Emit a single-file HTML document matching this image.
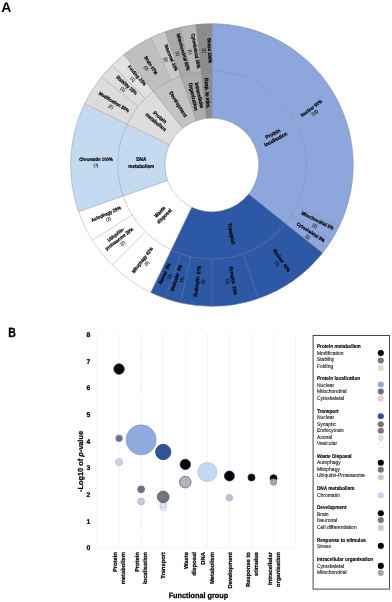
<!DOCTYPE html>
<html><head><meta charset="utf-8"><title>Figure</title>
<style>html,body{margin:0;padding:0;background:#fff;}svg{display:block;}</style>
</head><body>
<svg width="392" height="602" viewBox="0 0 392 602" font-family='"Liberation Sans", sans-serif' text-rendering="geometricPrecision">
<rect width="392" height="602" fill="#fff"/>
<g><path d="M211.90,70.90 A94.1,94.1 0 0 1 285.47,223.67 L248.65,194.30 A47.0,47.0 0 0 0 211.90,118.00 Z" fill="#8DA7DD" stroke="#8DA7DD" stroke-width="0.4"/><path d="M211.90,23.70 A141.3,141.3 0 0 1 339.21,226.31 L296.68,205.83 A94.1,94.1 0 0 0 211.90,70.90 Z" fill="#8DA7DD" stroke="#8DA7DD" stroke-width="0.4"/><path d="M339.21,226.31 A141.3,141.3 0 0 1 331.54,240.18 L291.58,215.06 A94.1,94.1 0 0 0 296.68,205.83 Z" fill="#8DA7DD" stroke="#8DA7DD" stroke-width="0.4"/><path d="M331.54,240.18 A141.3,141.3 0 0 1 322.37,253.10 L285.47,223.67 A94.1,94.1 0 0 0 291.58,215.06 Z" fill="#8DA7DD" stroke="#8DA7DD" stroke-width="0.4"/><path d="M285.47,223.67 A94.1,94.1 0 0 1 171.07,249.78 L191.51,207.35 A47.0,47.0 0 0 0 248.65,194.30 Z" fill="#2D58A6" stroke="#2D58A6" stroke-width="0.4"/><path d="M322.37,253.10 A141.3,141.3 0 0 1 258.57,298.37 L242.98,253.82 A94.1,94.1 0 0 0 285.47,223.67 Z" fill="#2D58A6" stroke="#2D58A6" stroke-width="0.4"/><path d="M258.57,298.37 A141.3,141.3 0 0 1 211.90,306.30 L211.90,259.10 A94.1,94.1 0 0 0 242.98,253.82 Z" fill="#2D58A6" stroke="#2D58A6" stroke-width="0.4"/><path d="M211.90,306.30 A141.3,141.3 0 0 1 180.46,302.76 L190.96,256.74 A94.1,94.1 0 0 0 211.90,259.10 Z" fill="#2D58A6" stroke="#2D58A6" stroke-width="0.4"/><path d="M180.46,302.76 A141.3,141.3 0 0 1 165.23,298.37 L180.82,253.82 A94.1,94.1 0 0 0 190.96,256.74 Z" fill="#2D58A6" stroke="#2D58A6" stroke-width="0.4"/><path d="M165.23,298.37 A141.3,141.3 0 0 1 150.59,292.31 L171.07,249.78 A94.1,94.1 0 0 0 180.82,253.82 Z" fill="#2D58A6" stroke="#2D58A6" stroke-width="0.4"/><path d="M171.07,249.78 A94.1,94.1 0 0 1 123.08,196.08 L167.54,180.52 A47.0,47.0 0 0 0 191.51,207.35 Z" fill="#FFFFFF" stroke="#FFFFFF" stroke-width="0.4"/><path d="M150.59,292.31 A141.3,141.3 0 0 1 111.99,264.91 L145.36,231.54 A94.1,94.1 0 0 0 171.07,249.78 Z" fill="#FFFFFF" stroke="#FFFFFF" stroke-width="0.4"/><path d="M111.99,264.91 A141.3,141.3 0 0 1 92.26,240.18 L132.22,215.06 A94.1,94.1 0 0 0 145.36,231.54 Z" fill="#FFFFFF" stroke="#FFFFFF" stroke-width="0.4"/><path d="M92.26,240.18 A141.3,141.3 0 0 1 78.53,211.67 L123.08,196.08 A94.1,94.1 0 0 0 132.22,215.06 Z" fill="#FFFFFF" stroke="#FFFFFF" stroke-width="0.4"/><path d="M123.08,196.08 A94.1,94.1 0 0 1 127.12,124.17 L169.55,144.61 A47.0,47.0 0 0 0 167.54,180.52 Z" fill="#C4DAF0" stroke="#C4DAF0" stroke-width="0.4"/><path d="M78.53,211.67 A141.3,141.3 0 0 1 84.59,103.69 L127.12,124.17 A94.1,94.1 0 0 0 123.08,196.08 Z" fill="#C4DAF0" stroke="#C4DAF0" stroke-width="0.4"/><path d="M127.12,124.17 A94.1,94.1 0 0 1 153.23,91.43 L182.60,128.25 A47.0,47.0 0 0 0 169.55,144.61 Z" fill="#DDDDDD" stroke="#DDDDDD" stroke-width="0.4"/><path d="M84.59,103.69 A141.3,141.3 0 0 1 101.43,76.90 L138.33,106.33 A94.1,94.1 0 0 0 127.12,124.17 Z" fill="#DCDCDC" stroke="#DCDCDC" stroke-width="0.4"/><path d="M101.43,76.90 A141.3,141.3 0 0 1 111.99,65.09 L145.36,98.46 A94.1,94.1 0 0 0 138.33,106.33 Z" fill="#DEDEDE" stroke="#DEDEDE" stroke-width="0.4"/><path d="M111.99,65.09 A141.3,141.3 0 0 1 123.80,54.53 L153.23,91.43 A94.1,94.1 0 0 0 145.36,98.46 Z" fill="#E1E1E1" stroke="#E1E1E1" stroke-width="0.4"/><path d="M153.23,91.43 A94.1,94.1 0 0 1 180.82,76.18 L196.38,120.64 A47.0,47.0 0 0 0 182.60,128.25 Z" fill="#C3C3C3" stroke="#C3C3C3" stroke-width="0.4"/><path d="M123.80,54.53 A141.3,141.3 0 0 1 150.59,37.69 L171.07,80.22 A94.1,94.1 0 0 0 153.23,91.43 Z" fill="#BFBFBF" stroke="#BFBFBF" stroke-width="0.4"/><path d="M150.59,37.69 A141.3,141.3 0 0 1 165.23,31.63 L180.82,76.18 A94.1,94.1 0 0 0 171.07,80.22 Z" fill="#C9C9C9" stroke="#C9C9C9" stroke-width="0.4"/><path d="M180.82,76.18 A94.1,94.1 0 0 1 201.36,71.49 L206.64,118.30 A47.0,47.0 0 0 0 196.38,120.64 Z" fill="#ACACAC" stroke="#ACACAC" stroke-width="0.4"/><path d="M165.23,31.63 A141.3,141.3 0 0 1 180.46,27.24 L190.96,73.26 A94.1,94.1 0 0 0 180.82,76.18 Z" fill="#A9A9A9" stroke="#A9A9A9" stroke-width="0.4"/><path d="M180.46,27.24 A141.3,141.3 0 0 1 196.08,24.59 L201.36,71.49 A94.1,94.1 0 0 0 190.96,73.26 Z" fill="#B6B6B6" stroke="#B6B6B6" stroke-width="0.4"/><path d="M201.36,71.49 A94.1,94.1 0 0 1 211.90,70.90 L211.90,118.00 A47.0,47.0 0 0 0 206.64,118.30 Z" fill="#8C8C8C" stroke="#8C8C8C" stroke-width="0.4"/><path d="M196.08,24.59 A141.3,141.3 0 0 1 211.90,23.70 L211.90,70.90 A94.1,94.1 0 0 0 201.36,71.49 Z" fill="#8C8C8C" stroke="#8C8C8C" stroke-width="0.4"/></g><g stroke="#767676" stroke-width="0.55" stroke-opacity="0.62" fill="none"><line x1="211.90" y1="118.00" x2="211.90" y2="23.70"/><line x1="296.68" y1="205.83" x2="339.21" y2="226.31"/><line x1="291.58" y1="215.06" x2="331.54" y2="240.18"/><line x1="248.65" y1="194.30" x2="322.37" y2="253.10"/><line x1="242.98" y1="253.82" x2="258.57" y2="298.37"/><line x1="211.90" y1="259.10" x2="211.90" y2="306.30"/><line x1="190.96" y1="256.74" x2="180.46" y2="302.76"/><line x1="180.82" y1="253.82" x2="165.23" y2="298.37"/><line x1="191.51" y1="207.35" x2="150.59" y2="292.31"/><line x1="145.36" y1="231.54" x2="111.99" y2="264.91"/><line x1="132.22" y1="215.06" x2="92.26" y2="240.18"/><line x1="167.54" y1="180.52" x2="78.53" y2="211.67"/><line x1="169.55" y1="144.61" x2="84.59" y2="103.69"/><line x1="138.33" y1="106.33" x2="101.43" y2="76.90"/><line x1="145.36" y1="98.46" x2="111.99" y2="65.09"/><line x1="182.60" y1="128.25" x2="123.80" y2="54.53"/><line x1="171.07" y1="80.22" x2="150.59" y2="37.69"/><line x1="196.38" y1="120.64" x2="165.23" y2="31.63"/><line x1="190.96" y1="73.26" x2="180.46" y2="27.24"/><line x1="206.64" y1="118.30" x2="196.08" y2="24.59"/><circle cx="211.9" cy="165.0" r="94.1"/><circle cx="211.9" cy="165.0" r="47.0"/><circle cx="211.9" cy="165.0" r="141.3" stroke-opacity="0.55"/></g><g text-anchor="middle" fill="#000"><g transform="translate(274.23,136.59) rotate(-28.00)"><text transform="translate(0,-1.25) scale(0.875,1)" font-size="5.3" font-weight="bold" stroke="#000" stroke-width="0.2">Protein</text><text transform="translate(0,4.85) scale(0.875,1)" font-size="5.3" font-weight="bold" stroke="#000" stroke-width="0.2">localisation</text></g><g transform="translate(313.07,110.53) rotate(-36.50)"><text transform="translate(0,-1.13) scale(0.875,1)" font-size="4.9" font-weight="bold" stroke="#000" stroke-width="0.2">Nuclear 90%</text><text transform="translate(0,4.27) scale(0.875,1)" font-size="4.51" fill="#000" stroke="#000" stroke-width="0.1">(18)</text></g><g transform="translate(316.23,223.07) rotate(26.50)"><text transform="translate(0,-1.13) scale(0.875,1)" font-size="4.9" font-weight="bold" stroke="#000" stroke-width="0.2">Mitochondrial 5%</text><text transform="translate(0,4.27) scale(0.875,1)" font-size="4.51" fill="#000" stroke="#000" stroke-width="0.1">(1)</text></g><g transform="translate(309.27,234.45) rotate(33.00)"><text transform="translate(0,-1.13) scale(0.875,1)" font-size="4.9" font-weight="bold" stroke="#000" stroke-width="0.2">Cytoskeletal 5%</text><text transform="translate(0,4.27) scale(0.875,1)" font-size="4.51" fill="#000" stroke="#000" stroke-width="0.1">(1)</text></g><g transform="translate(231.49,233.76) rotate(79.00)"><text transform="translate(0,1.80) scale(0.875,1)" font-size="5.3" font-weight="bold" stroke="#000" stroke-width="0.2">Transport</text></g><g transform="translate(279.36,262.06) rotate(55.20)"><text transform="translate(0,-1.13) scale(0.875,1)" font-size="4.9" font-weight="bold" stroke="#000" stroke-width="0.2">Nuclear  42%</text><text transform="translate(0,4.27) scale(0.875,1)" font-size="4.51" fill="#000" stroke="#000" stroke-width="0.1">(5)</text></g><g transform="translate(230.48,281.02) rotate(80.90)"><text transform="translate(0,-1.13) scale(0.875,1)" font-size="4.9" font-weight="bold" stroke="#000" stroke-width="0.2">Synaptic  25%</text><text transform="translate(0,4.27) scale(0.875,1)" font-size="4.51" fill="#000" stroke="#000" stroke-width="0.1">(3)</text></g><g transform="translate(200.06,281.60) rotate(-82.00)"><text transform="translate(0,-1.13) scale(0.875,1)" font-size="4.9" font-weight="bold" stroke="#000" stroke-width="0.2">Endocytic  17%</text><text transform="translate(0,4.27) scale(0.875,1)" font-size="4.51" fill="#000" stroke="#000" stroke-width="0.1">(2)</text></g><g transform="translate(178.84,278.79) rotate(-71.50)"><text transform="translate(0,-1.13) scale(0.875,1)" font-size="4.9" font-weight="bold" stroke="#000" stroke-width="0.2">Vesicular  8%</text><text transform="translate(0,4.27) scale(0.875,1)" font-size="4.51" fill="#000" stroke="#000" stroke-width="0.1">(1)</text></g><g transform="translate(167.01,274.99) rotate(-65.00)"><text transform="translate(0,-1.13) scale(0.875,1)" font-size="4.9" font-weight="bold" stroke="#000" stroke-width="0.2">Axonal  8%</text><text transform="translate(0,4.27) scale(0.875,1)" font-size="4.51" fill="#000" stroke="#000" stroke-width="0.1">(1)</text></g><g transform="translate(162.12,213.92) rotate(-46.00)"><text transform="translate(0,-1.25) scale(0.875,1)" font-size="5.3" font-weight="bold" stroke="#000" stroke-width="0.2">Waste</text><text transform="translate(0,4.85) scale(0.875,1)" font-size="5.3" font-weight="bold" stroke="#000" stroke-width="0.2">disposal</text></g><g transform="translate(144.61,261.81) rotate(-52.00)"><text transform="translate(0,-1.13) scale(0.875,1)" font-size="4.9" font-weight="bold" stroke="#000" stroke-width="0.2">Mitophagy 42%</text><text transform="translate(0,4.27) scale(0.875,1)" font-size="4.51" fill="#000" stroke="#000" stroke-width="0.1">(3)</text></g><g transform="translate(119.29,238.93) rotate(-37.50)"><text transform="translate(0,-3.93) scale(0.875,1)" font-size="4.9" font-weight="bold" stroke="#000" stroke-width="0.2">Ubiquitin-</text><text transform="translate(0,1.67) scale(0.875,1)" font-size="4.9" font-weight="bold" stroke="#000" stroke-width="0.2">proteasome 29%</text><text transform="translate(0,7.07) scale(0.875,1)" font-size="4.51" fill="#000" stroke="#000" stroke-width="0.1">(2)</text></g><g transform="translate(107.19,216.52) rotate(-23.50)"><text transform="translate(0,-1.13) scale(0.875,1)" font-size="4.9" font-weight="bold" stroke="#000" stroke-width="0.2">Autophagy 29%</text><text transform="translate(0,4.27) scale(0.875,1)" font-size="4.51" fill="#000" stroke="#000" stroke-width="0.1">(2)</text></g><g transform="translate(141.24,162.66) rotate(0.00)"><text transform="translate(0,-1.25) scale(0.875,1)" font-size="5.3" font-weight="bold" stroke="#000" stroke-width="0.2">DNA</text><text transform="translate(0,4.85) scale(0.875,1)" font-size="5.3" font-weight="bold" stroke="#000" stroke-width="0.2">metabolism</text></g><g transform="translate(96.03,162.57) rotate(0.00)"><text transform="translate(0,-1.13) scale(0.875,1)" font-size="4.9" font-weight="bold" stroke="#000" stroke-width="0.2">Chromatin 100%</text><text transform="translate(0,4.27) scale(0.875,1)" font-size="4.51" fill="#000" stroke="#000" stroke-width="0.1">(7)</text></g><g transform="translate(157.89,119.68) rotate(40.00)"><text transform="translate(0,-1.25) scale(0.875,1)" font-size="5.3" font-weight="bold" stroke="#000" stroke-width="0.2">Protein</text><text transform="translate(0,4.85) scale(0.875,1)" font-size="5.3" font-weight="bold" stroke="#000" stroke-width="0.2">metabolism</text></g><g transform="translate(112.46,104.30) rotate(31.40)"><text transform="translate(0,-1.13) scale(0.875,1)" font-size="4.9" font-weight="bold" stroke="#000" stroke-width="0.2">Modification 50%</text><text transform="translate(0,4.27) scale(0.875,1)" font-size="4.51" fill="#000" stroke="#000" stroke-width="0.1">(2)</text></g><g transform="translate(124.75,87.08) rotate(41.80)"><text transform="translate(0,-1.13) scale(0.875,1)" font-size="4.9" font-weight="bold" stroke="#000" stroke-width="0.2">Stability 25%</text><text transform="translate(0,4.27) scale(0.875,1)" font-size="4.51" fill="#000" stroke="#000" stroke-width="0.1">(1)</text></g><g transform="translate(134.88,77.33) rotate(48.70)"><text transform="translate(0,-1.13) scale(0.875,1)" font-size="4.9" font-weight="bold" stroke="#000" stroke-width="0.2">Folding 25%</text><text transform="translate(0,4.27) scale(0.875,1)" font-size="4.51" fill="#000" stroke="#000" stroke-width="0.1">(1)</text></g><g transform="translate(178.16,104.13) rotate(58.50)"><text transform="translate(0,1.80) scale(0.875,1)" font-size="5.3" font-weight="bold" stroke="#000" stroke-width="0.2">Development</text></g><g transform="translate(148.63,66.82) rotate(57.20)"><text transform="translate(0,-1.13) scale(0.875,1)" font-size="4.9" font-weight="bold" stroke="#000" stroke-width="0.2">Brain 67%</text><text transform="translate(0,4.27) scale(0.875,1)" font-size="4.51" fill="#000" stroke="#000" stroke-width="0.1">(2)</text></g><g transform="translate(168.52,58.71) rotate(67.80)"><text transform="translate(0,-1.13) scale(0.875,1)" font-size="4.9" font-weight="bold" stroke="#000" stroke-width="0.2">Neuronal 33%</text><text transform="translate(0,4.27) scale(0.875,1)" font-size="4.51" fill="#000" stroke="#000" stroke-width="0.1">(1)</text></g><g transform="translate(196.36,96.03) rotate(77.30)"><text transform="translate(0,-1.25) scale(0.875,1)" font-size="5.3" font-weight="bold" stroke="#000" stroke-width="0.2">Intracellular</text><text transform="translate(0,4.85) scale(0.875,1)" font-size="5.3" font-weight="bold" stroke="#000" stroke-width="0.2">Organization</text></g><g transform="translate(180.60,52.89) rotate(74.40)"><text transform="translate(0,-1.13) scale(0.875,1)" font-size="4.9" font-weight="bold" stroke="#000" stroke-width="0.2">Mitochondrial 50%</text><text transform="translate(0,4.27) scale(0.875,1)" font-size="4.51" fill="#000" stroke="#000" stroke-width="0.1">(1)</text></g><g transform="translate(193.08,51.35) rotate(80.60)"><text transform="translate(0,-1.13) scale(0.875,1)" font-size="4.9" font-weight="bold" stroke="#000" stroke-width="0.2">Cytoskeletal 50%</text><text transform="translate(0,4.27) scale(0.875,1)" font-size="4.51" fill="#000" stroke="#000" stroke-width="0.1">(1)</text></g><g transform="translate(207.39,93.34) rotate(86.00)"><text transform="translate(0,1.80) scale(0.875,1)" font-size="5.3" font-weight="bold" stroke="#000" stroke-width="0.2">Resp. to stim.</text></g><g transform="translate(206.91,50.61) rotate(87.50)"><text transform="translate(0,-1.13) scale(0.875,1)" font-size="4.9" font-weight="bold" stroke="#000" stroke-width="0.2">Stress 100%</text><text transform="translate(0,4.27) scale(0.875,1)" font-size="4.51" fill="#000" stroke="#000" stroke-width="0.1">(1)</text></g></g>
<text x="1.2" y="11.8" font-size="14" font-weight="bold" fill="#000">A</text>
<text x="8.2" y="336.8" font-size="13.4" font-weight="bold" fill="#000" stroke="#000" stroke-width="0.3" textLength="7.6" lengthAdjust="spacingAndGlyphs">B</text>
<g stroke="#e2e2e6" stroke-width="0.7" stroke-dasharray="1 0.7" fill="none"><line x1="97.00" y1="333.4" x2="97.00" y2="547.7"/><line x1="119.07" y1="333.4" x2="119.07" y2="547.7"/><line x1="141.14" y1="333.4" x2="141.14" y2="547.7"/><line x1="163.21" y1="333.4" x2="163.21" y2="547.7"/><line x1="185.28" y1="333.4" x2="185.28" y2="547.7"/><line x1="207.35" y1="333.4" x2="207.35" y2="547.7"/><line x1="229.42" y1="333.4" x2="229.42" y2="547.7"/><line x1="251.49" y1="333.4" x2="251.49" y2="547.7"/><line x1="273.56" y1="333.4" x2="273.56" y2="547.7"/><line x1="295.63" y1="333.4" x2="295.63" y2="547.7"/><line x1="97.00" y1="547.7" x2="295.63" y2="547.7"/></g><g text-anchor="middle" font-weight="bold" fill="#000" stroke="#000" stroke-width="0.22"><text x="88.3" y="550.40" font-size="6.8">0</text><text x="88.3" y="523.74" font-size="6.8">1</text><text x="88.3" y="497.07" font-size="6.8">2</text><text x="88.3" y="470.41" font-size="6.8">3</text><text x="88.3" y="443.75" font-size="6.8">4</text><text x="88.3" y="417.09" font-size="6.8">5</text><text x="88.3" y="390.43" font-size="6.8">6</text><text x="88.3" y="363.76" font-size="6.8">7</text><text x="88.3" y="337.10" font-size="6.8">8</text></g><text transform="translate(82.7,461.5) rotate(-90)" text-anchor="middle" font-size="7.3" font-weight="bold" fill="#000" stroke="#000" stroke-width="0.22" textLength="61" lengthAdjust="spacingAndGlyphs">-Log10 of <tspan font-style="italic">p</tspan>-value</text><circle cx="119.07" cy="369.0" r="5.2" fill="#05070d" stroke="#1a2740" stroke-width="0.8"/><circle cx="119.07" cy="438.3" r="3.4" fill="#6c7283" stroke="#8b93a8" stroke-width="0.8"/><circle cx="141.14" cy="439.8" r="15.0" fill="#8FAADC" stroke="#7d9ad6" stroke-width="0.8"/><circle cx="163.21" cy="452.0" r="7.7" fill="#2F5597" stroke="#2a4d8c" stroke-width="0.8"/><circle cx="119.07" cy="462.1" r="3.4" fill="#c9d3e6" stroke="#a9b9d6" stroke-width="0.8"/><circle cx="141.14" cy="489.3" r="3.4" fill="#6c7283" stroke="#5a6278" stroke-width="0.8"/><circle cx="141.14" cy="501.5" r="3.4" fill="#c3cde0" stroke="#a4b6d8" stroke-width="0.8"/><circle cx="163.21" cy="507.4" r="3.2" fill="#f4f8fe" stroke="#b7cdee" stroke-width="0.8"/><circle cx="163.21" cy="504.9" r="3.2" fill="#dbe6f6" stroke="#a9c3ea" stroke-width="0.8"/><circle cx="163.21" cy="496.9" r="5.8" fill="#77757a" stroke="#4d5468" stroke-width="0.8"/><circle cx="185.28" cy="464.4" r="5.2" fill="#05070d" stroke="#1a2740" stroke-width="0.8"/><circle cx="185.28" cy="482.1" r="5.8" fill="#b4b4ba" stroke="#5d6680" stroke-width="0.8"/><circle cx="207.35" cy="472.0" r="9.5" fill="#c3daf2" stroke="#9fc3ea" stroke-width="0.8"/><circle cx="229.42" cy="476.0" r="5.0" fill="#05070d" stroke="#1a2740" stroke-width="0.8"/><circle cx="229.42" cy="497.7" r="3.2" fill="#bcc4d4" stroke="#a3b1cc" stroke-width="0.8"/><circle cx="251.49" cy="477.5" r="3.5" fill="#05070d" stroke="#1a2740" stroke-width="0.8"/><circle cx="273.56" cy="478.2" r="3.5" fill="#05070d" stroke="#1a2740" stroke-width="0.8"/><circle cx="273.56" cy="482.1" r="3.2" fill="#a6a6ac" stroke="#8f96a8" stroke-width="0.8"/><g text-anchor="end" font-size="5.8" font-weight="bold" fill="#000" stroke="#000" stroke-width="0.2"><text transform="translate(117.12,552.1) rotate(-90)">Protein</text><text transform="translate(125.22,552.1) rotate(-90)">metabolism</text><text transform="translate(139.19,552.1) rotate(-90)">Protein</text><text transform="translate(147.29,552.1) rotate(-90)">localisation</text><text transform="translate(165.31,552.1) rotate(-90)">Transport</text><text transform="translate(188.13,552.1) rotate(-90)">Waste</text><text transform="translate(196.23,552.1) rotate(-90)">disposal</text><text transform="translate(205.40,552.1) rotate(-90)">DNA</text><text transform="translate(213.50,552.1) rotate(-90)">Metabolism</text><text transform="translate(231.52,552.1) rotate(-90)">Development</text><text transform="translate(249.54,552.1) rotate(-90)">Response to</text><text transform="translate(257.64,552.1) rotate(-90)">stimulus</text><text transform="translate(271.61,552.1) rotate(-90)">Intracellular</text><text transform="translate(279.71,552.1) rotate(-90)">organisation</text></g><text x="198.4" y="598.4" text-anchor="middle" font-size="7.8" font-weight="bold" fill="#000" stroke="#000" stroke-width="0.25" textLength="59.5" lengthAdjust="spacingAndGlyphs">Functional group</text>
<rect x="313.1" y="335.5" width="76.4" height="253.6" fill="#fff" stroke="#333" stroke-width="0.9"/><text transform="translate(316.9,348.20) scale(0.875,1)" font-size="5.4" font-weight="bold" fill="#000" stroke="#000" stroke-width="0.12">Protein metabolism</text><text transform="translate(316.9,354.65) scale(0.925,1)" font-size="5.4" fill="#000" stroke="#000" stroke-width="0.07">Modification</text><circle cx="380.8" cy="353.1" r="3.05" fill="#000"/><text transform="translate(316.9,361.10) scale(0.925,1)" font-size="5.4" fill="#000" stroke="#000" stroke-width="0.07">Stability</text><circle cx="380.8" cy="360.6" r="3.05" fill="#7b7676"/><text transform="translate(316.9,367.55) scale(0.925,1)" font-size="5.4" fill="#000" stroke="#000" stroke-width="0.07">Folding</text><circle cx="380.8" cy="368.1" r="3.05" fill="#dcdcdc"/><text transform="translate(316.9,380.45) scale(0.875,1)" font-size="5.4" font-weight="bold" fill="#000" stroke="#000" stroke-width="0.12">Protein localization</text><text transform="translate(316.9,386.90) scale(0.925,1)" font-size="5.4" fill="#000" stroke="#000" stroke-width="0.07">Nuclear</text><circle cx="380.8" cy="384.5" r="3.05" fill="#8FAADC"/><text transform="translate(316.9,393.35) scale(0.925,1)" font-size="5.4" fill="#000" stroke="#000" stroke-width="0.07">Mitochondrial</text><circle cx="380.8" cy="391.6" r="3.05" fill="#747176"/><text transform="translate(316.9,399.80) scale(0.925,1)" font-size="5.4" fill="#000" stroke="#000" stroke-width="0.07">Cytoskeletal</text><circle cx="380.8" cy="398.6" r="3.05" fill="#d2d5db"/><text transform="translate(316.9,412.70) scale(0.875,1)" font-size="5.4" font-weight="bold" fill="#000" stroke="#000" stroke-width="0.12">Transport</text><text transform="translate(316.9,419.15) scale(0.925,1)" font-size="5.4" fill="#000" stroke="#000" stroke-width="0.07">Nuclear</text><circle cx="380.8" cy="416.2" r="3.05" fill="#2F5597"/><text transform="translate(316.9,425.60) scale(0.925,1)" font-size="5.4" fill="#000" stroke="#000" stroke-width="0.07">Synaptic</text><circle cx="380.8" cy="424.2" r="3.05" fill="#7b7676"/><text transform="translate(316.9,432.05) scale(0.925,1)" font-size="5.4" fill="#000" stroke="#000" stroke-width="0.07">Endocytosis</text><circle cx="380.8" cy="430.7" r="3.05" fill="#7b7676"/><text transform="translate(316.9,438.50) scale(0.925,1)" font-size="5.4" fill="#000" stroke="#000" stroke-width="0.07">Axonal</text><circle cx="380.8" cy="438.0" r="3.05" fill="#dcdcdc"/><text transform="translate(316.9,444.95) scale(0.925,1)" font-size="5.4" fill="#000" stroke="#000" stroke-width="0.07">Vesicular</text><circle cx="380.8" cy="445.0" r="3.05" fill="#fdfeff" stroke="#dae3f3" stroke-width="0.6"/><text transform="translate(316.9,457.85) scale(0.875,1)" font-size="5.4" font-weight="bold" fill="#000" stroke="#000" stroke-width="0.12">Waste Disposal</text><text transform="translate(316.9,464.30) scale(0.925,1)" font-size="5.4" fill="#000" stroke="#000" stroke-width="0.07">Autophagy</text><circle cx="380.8" cy="462.7" r="3.05" fill="#000"/><text transform="translate(316.9,470.75) scale(0.925,1)" font-size="5.4" fill="#000" stroke="#000" stroke-width="0.07">Mitophagy</text><circle cx="380.8" cy="469.7" r="3.05" fill="#6c7084"/><text transform="translate(316.9,477.20) scale(0.925,1)" font-size="5.4" fill="#000" stroke="#000" stroke-width="0.07">Ubiquitin-Proteasome</text><circle cx="380.8" cy="477.2" r="3.05" fill="#c9c9c9"/><text transform="translate(316.9,490.10) scale(0.875,1)" font-size="5.4" font-weight="bold" fill="#000" stroke="#000" stroke-width="0.12">DNA metabolism</text><text transform="translate(316.9,496.55) scale(0.925,1)" font-size="5.4" fill="#000" stroke="#000" stroke-width="0.07">Chromatin</text><circle cx="380.8" cy="495.3" r="3.05" fill="#BDD7EE"/><text transform="translate(316.9,509.45) scale(0.875,1)" font-size="5.4" font-weight="bold" fill="#000" stroke="#000" stroke-width="0.12">Development</text><text transform="translate(316.9,515.90) scale(0.925,1)" font-size="5.4" fill="#000" stroke="#000" stroke-width="0.07">Brain</text><circle cx="380.8" cy="513.3" r="3.05" fill="#000"/><text transform="translate(316.9,522.35) scale(0.925,1)" font-size="5.4" fill="#000" stroke="#000" stroke-width="0.07">Neuronal</text><circle cx="380.8" cy="520.1" r="3.05" fill="#7b7676"/><text transform="translate(316.9,528.80) scale(0.925,1)" font-size="5.4" fill="#000" stroke="#000" stroke-width="0.07">Cell differentiation</text><circle cx="380.8" cy="527.9" r="3.05" fill="#c9c9cf"/><text transform="translate(316.9,541.70) scale(0.875,1)" font-size="5.4" font-weight="bold" fill="#000" stroke="#000" stroke-width="0.12">Response to stimulus</text><text transform="translate(316.9,548.15) scale(0.925,1)" font-size="5.4" fill="#000" stroke="#000" stroke-width="0.07">Stress</text><circle cx="380.8" cy="545.9" r="3.05" fill="#000"/><text transform="translate(316.9,561.05) scale(0.875,1)" font-size="5.4" font-weight="bold" fill="#000" stroke="#000" stroke-width="0.12">Intracellular organisation</text><text transform="translate(316.9,567.50) scale(0.925,1)" font-size="5.4" fill="#000" stroke="#000" stroke-width="0.07">Cytoskeletal</text><circle cx="380.8" cy="565.9" r="3.05" fill="#000"/><text transform="translate(316.9,573.95) scale(0.925,1)" font-size="5.4" fill="#000" stroke="#000" stroke-width="0.07">Mitochondrial</text><circle cx="380.8" cy="572.9" r="3.05" fill="#a4a6aa"/>
</svg>
</body></html>
